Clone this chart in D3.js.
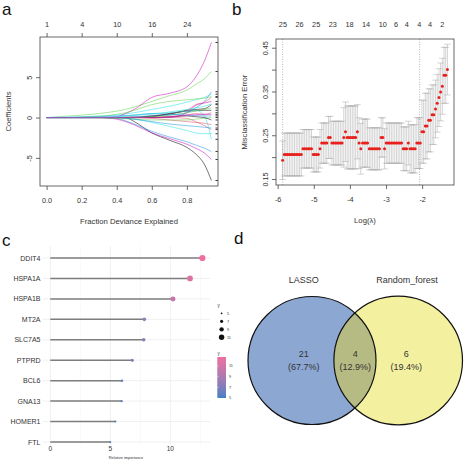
<!DOCTYPE html>
<html lang="en">
<head>
<meta charset="UTF-8">
<title>LASSO and random forest feature selection</title>
<script src="https://d3js.org/d3.v7.min.js"></script>
<style>
  body { margin: 0; background: #fff; }
  svg { display: block; font-family: "Liberation Sans", Arial, sans-serif; }
  .tick-label { font-size: 7.3px; fill: #333; }
  .axis-title { font-size: 7.7px; fill: #333; }
  .panel-tag { font-size: 17px; fill: #111; }
  .gene-label { font-size: 7px; fill: #333; }
  .venn-text { font-size: 9px; fill: #333; }
</style>
</head>
<body>
<svg id="fig" width="474" height="469"></svg>
<script>
// ---- panel a: coefficient paths (x = fraction of deviance explained)
const devFrac = [0, 0.1, 0.2, 0.3, 0.4, 0.45, 0.5, 0.6, 0.7, 0.8, 0.85, 0.9, 0.94];
const coef01 = [0, 0, 0, 0, 0, 0, -0.5, -1.9, -2.8, -3.7, -4.5, -5.8, -7.8];
const coef02 = [0, 0, 0, 0, 0, 0.05, 0.1, 0.2, 0.5, 0.9, 1.6, 1.9, 2.5];
const coef03 = [0, 0.15, 0.3, 0.5, 0.8, 1.0, 1.3, 2.0, 2.7, 3.4, 4.1, 4.8, 5.7];
const coef04 = [0, 0, 0, 0, -0.1, -0.4, -0.8, -1.7, -2.4, -3.0, -3.4, -3.8, -4.2];
const coef05 = [0, 0.05, 0.1, 0.2, 0.3, 0.45, 0.6, 1.0, 1.4, 1.9, 2.2, 2.5, 2.9];
const coef06 = [0, 0, 0, 0, 0.1, 0.5, 1.0, 2.5, 3.0, 3.8, 5.0, 7.0, 9.3];
const coef07 = [0, 0, 0, 0, 0, 0, 0, 0.2, 0.4, 0.9, 1.0, 1.1, 1.6];
const coef08 = [0, 0, 0, 0, 0, 0, 0, -0.1, -0.3, -0.5, -0.6, -0.7, -0.9];
const coef09 = [0, 0, 0.05, 0.15, 0.4, 0.6, 0.9, 1.6, 2.0, 2.2, 2.3, 2.4, 2.6];
const coef10 = [0, 0, 0, 0, 0, 0.05, 0.1, 0.2, 0.3, 0.6, 1.2, 2.0, 3.2];
const coef11 = [0, 0, 0, 0, 0, -0.1, -0.2, -0.6, -1.1, -1.6, -1.9, -2.0, -2.0];
const coef12 = [0, 0, 0, 0, -0.2, -0.5, -0.9, -1.9, -2.6, -3.3, -3.8, -4.4, -5.2];
const coef13 = [0, 0, 0, 0, 0, 0, 0, 0.1, 0.5, 0.8, 0.85, 0.9, 0.9];
const coef14 = [0, 0, 0, 0, 0, 0, 0, 0, 0, -0.1, -0.5, -1.0, -1.5];
const coef15 = [0, 0, 0, 0, -0.1, -0.15, -0.2, -0.3, -0.3, -0.3, -0.2, -0.1, 0];
const coef16 = [0, 0, 0, 0, 0, -0.1, -0.2, -0.5, -0.8, -1.0, -1.1, -1.2, -1.3];
const coef17 = [0, 0, 0, 0, 0.1, 0.2, 0.3, 0.5, 0.6, 0.8, 0.9, 0.2, -2.7];
const coef18 = [0, 0, 0, 0, 0, 0, 0, 0, 0, 0.6, 1.5, 1.8, 2.0];
const coef19 = [0, 0, 0, 0, 0, 0, 0, 0, 0.1, 0.2, 0.1, 0, -0.3];
const coef20 = [0, 0, 0, 0, 0, 0, 0, 0, 0.1, 0.3, 0.5, 0.4, 0.6];
const coef21 = [0, 0, 0, 0, 0, 0, 0, 0.1, 0.3, 0.6, 0.8, 1.0, 1.2];
const coef22 = [0, 0, 0.05, 0.1, 0.2, 0.25, 0.3, 0.5, 0.4, 0.3, 0.25, 0.2, 0.2];
const coef23 = [0, 0, 0, 0, 0, 0.2, 0.3, 0.4, 0.7, 1.0, 1.2, 1.4, 1.7];
const coef24 = [0, 0, 0, 0, 0, 0, 0, 0, 0.1, 0.3, 0.35, 0.4, 0.4];
const coefPaths = [coef01, coef02, coef03, coef04, coef05, coef06, coef07, coef08,
  coef09, coef10, coef11, coef12, coef13, coef14, coef15, coef16,
  coef17, coef18, coef19, coef20, coef21, coef22, coef23, coef24];
const devTicks = [0, 0.2, 0.4, 0.6, 0.8];
const dfTopA = ["1", "4", "10", "16", "24"];
const coefTicks = [-5, 0, 5];

// ---- panel b: cross-validated misclassification error
const logLambda = [-5.863, -5.816, -5.769, -5.722, -5.675, -5.628, -5.581, -5.534, -5.487, -5.440,
  -5.393, -5.346, -5.299, -5.252, -5.204, -5.157, -5.110, -5.063, -5.016, -4.969,
  -4.922, -4.875, -4.828, -4.781, -4.734, -4.687, -4.640, -4.593, -4.546, -4.499,
  -4.452, -4.405, -4.358, -4.311, -4.264, -4.217, -4.170, -4.123, -4.076, -4.029,
  -3.981, -3.934, -3.887, -3.840, -3.793, -3.746, -3.699, -3.652, -3.605, -3.558,
  -3.511, -3.464, -3.417, -3.370, -3.323, -3.276, -3.229, -3.182, -3.135, -3.088,
  -3.041, -2.994, -2.947, -2.900, -2.853, -2.806, -2.758, -2.711, -2.664, -2.617,
  -2.570, -2.523, -2.476, -2.429, -2.382, -2.335, -2.288, -2.241, -2.194, -2.147,
  -2.100, -2.053, -2.006, -1.959, -1.912, -1.865, -1.818, -1.771, -1.724, -1.677,
  -1.630, -1.583, -1.535, -1.488, -1.441, -1.394, -1.347, -1.300];
const cvMean = [0.193,
  0.206, 0.206, 0.206, 0.206, 0.206, 0.206, 0.206, 0.206, 0.206, 0.206, 0.206,
  0.219, 0.219, 0.219, 0.219, 0.219, 0.219,
  0.206, 0.206, 0.206, 0.206,
  0.219,
  0.232, 0.232, 0.232, 0.232,
  0.245, 0.245,
  0.232, 0.232, 0.232, 0.232, 0.232, 0.232, 0.232,
  0.245, 0.258,
  0.245, 0.245, 0.245, 0.245, 0.245, 0.245,
  0.258, 0.232, 0.219,
  0.232, 0.232, 0.232, 0.232,
  0.219, 0.219, 0.219, 0.219, 0.219, 0.219, 0.219,
  0.245, 0.245, 0.219,
  0.232, 0.232, 0.232, 0.232, 0.232, 0.232, 0.232, 0.232, 0.232, 0.232,
  0.219, 0.219, 0.219, 0.232, 0.219, 0.219, 0.219, 0.219,
  0.232, 0.232, 0.232,
  0.258, 0.258, 0.271, 0.271, 0.284, 0.284, 0.297, 0.297,
  0.310, 0.323, 0.336, 0.349, 0.362, 0.387, 0.387, 0.400];
const cvSd = [0.044,
  0.049, 0.049, 0.049, 0.049, 0.049, 0.049, 0.049, 0.049, 0.049, 0.049, 0.049,
  0.044, 0.044, 0.044, 0.044, 0.044, 0.044,
  0.040, 0.040, 0.040, 0.040,
  0.044,
  0.046, 0.046, 0.046, 0.046,
  0.048, 0.048,
  0.050, 0.050, 0.050, 0.050, 0.050, 0.050, 0.050,
  0.068, 0.068,
  0.072, 0.072, 0.072, 0.072, 0.072, 0.072,
  0.062, 0.058, 0.058,
  0.055, 0.055, 0.055, 0.055,
  0.048, 0.048, 0.048, 0.048, 0.048, 0.048, 0.048,
  0.045, 0.045, 0.046,
  0.046, 0.046, 0.046, 0.046, 0.046, 0.046, 0.046, 0.046, 0.046, 0.046,
  0.050, 0.050, 0.050, 0.050, 0.055, 0.055, 0.055, 0.055,
  0.058, 0.058, 0.058,
  0.072, 0.072, 0.075, 0.075, 0.072, 0.072, 0.068, 0.068,
  0.066, 0.066, 0.066, 0.066, 0.064, 0.064, 0.064, 0.058];
const lambdaMinLog = -5.863;
const lambda1seLog = -2.07;
const dfTopB = ["25", "26", "25", "23", "18", "14", "10", "6", "4", "4", "4", "2"];
const dfTopBAt = [-5.854, -5.392, -4.934, -4.472, -4.011, -3.552, -3.091, -2.724, -2.428, -2.077, -1.785, -1.442];
const lambdaTicks = [-6, -5, -4, -3, -2];
const errTicks = [0.15, 0.20, 0.25, 0.30, 0.35, 0.40, 0.45];
const errLabelled = [0.15, 0.25, 0.35, 0.45];

// ---- panel c: random forest importance
const genes = ["DDIT4", "HSPA1A", "HSPA1B", "MT2A", "SLC7A5", "PTPRD", "BCL6", "GNA13", "HOMER1", "FTL"];
const importance = [12.67, 11.64, 10.22, 7.83, 7.78, 6.83, 5.97, 5.94, 5.42, 5.00];
const importanceTicks = [0, 5, 10];
const sizeLegend = [5, 7, 9, 11];
const colourLegend = [5, 7, 9, 11];

// ---- panel d: overlap of selected genes
const vennSets = ["LASSO", "Random_forest"];
const vennCounts = [21, 4, 6]; // LASSO only, both, random forest only

const svg = d3.select("#fig");
const rPalette = ["#000000", "#DF536B", "#61D04F", "#2297E6", "#28E2E5", "#CD0BBC"];

function styleAxis(g) {
  g.attr("font-size", null).attr("font-family", null);
  g.select(".domain").remove();
  g.selectAll(".tick line").attr("stroke", "#444").attr("stroke-width", 0.8);
  g.selectAll(".tick text").attr("class", "tick-label");
}

// rotate y tick labels like R (las = 0)
function rotateYLabels(g, dist) {
  g.selectAll(".tick text")
    .attr("transform", "rotate(-90)")
    .attr("x", 0).attr("y", -dist).attr("dy", 0)
    .attr("text-anchor", "middle");
}

// panel tags
svg.append("text").attr("class", "panel-tag").attr("x", 2).attr("y", 15).text("a");
svg.append("text").attr("class", "panel-tag").attr("x", 232).attr("y", 15).text("b");
svg.append("text").attr("class", "panel-tag").attr("x", 2).attr("y", 246).text("c");
svg.append("text").attr("class", "panel-tag").attr("x", 234).attr("y", 244).text("d");

// ================= panel a =================
const gA = svg.append("g");
const xA = d3.scaleLinear().domain([-0.0376, 0.9776]).range([40, 218]);
const yA = d3.scaleLinear().domain([-8.48, 9.98]).range([186, 37]);

const lineA = d3.line()
  .x((d, i) => xA(devFrac[i]))
  .y(d => yA(d))
  .curve(d3.curveMonotoneX);

gA.selectAll("path.coef")
  .data(coefPaths)
  .join("path")
  .attr("class", "coef")
  .attr("d", lineA)
  .attr("fill", "none")
  .attr("stroke", (d, i) => rPalette[i % 6])
  .attr("stroke-width", 0.8)
  .attr("stroke-opacity", 0.68);

// variable marks at the right edge
gA.selectAll("line.endmark")
  .data(coefPaths)
  .join("line")
  .attr("class", "endmark")
  .attr("x1", 215.5).attr("x2", 217.8)
  .attr("y1", d => yA(d[d.length - 1]))
  .attr("y2", d => yA(d[d.length - 1]))
  .attr("stroke", "#333")
  .attr("stroke-width", 1);

gA.append("rect")
  .attr("x", 40).attr("y", 37).attr("width", 178).attr("height", 149)
  .attr("fill", "none").attr("stroke", "#444").attr("stroke-width", 0.8);

gA.append("g").attr("transform", "translate(0,186)")
  .call(d3.axisBottom(xA).tickValues(devTicks).tickFormat(d3.format(".1f")).tickSize(4).tickPadding(8))
  .call(styleAxis);
gA.append("g").attr("transform", "translate(0,37)")
  .call(d3.axisTop(xA).tickValues(devTicks).tickFormat((d, i) => dfTopA[i]).tickSize(4).tickPadding(6))
  .call(styleAxis);
gA.append("g").attr("transform", "translate(40,0)")
  .call(d3.axisLeft(yA).tickValues(coefTicks).tickFormat(d => String(d)).tickSize(4))
  .call(styleAxis)
  .call(g => rotateYLabels(g, 8.5));

gA.append("text").attr("class", "axis-title")
  .attr("x", 129).attr("y", 224).attr("text-anchor", "middle")
  .text("Fraction Deviance Explained");
gA.append("text").attr("class", "axis-title")
  .attr("transform", "translate(10.5,111.5) rotate(-90)").attr("text-anchor", "middle")
  .text("Coefficients");

// ================= panel b =================
const gB = svg.append("g");
const xB = d3.scaleLinear().domain([-6.046, -1.118]).range([276, 454]);
const yB = d3.scaleLinear().domain([0.1363, 0.4699]).range([185, 39]);
const barw = (d3.max(logLambda) - d3.min(logLambda)) * 0.02;

const bars = gB.append("g").attr("stroke", "#a9a9a9").attr("stroke-width", 0.5);
logLambda.forEach((l, i) => {
  const up = cvMean[i] + cvSd[i], lo = cvMean[i] - cvSd[i];
  bars.append("line").attr("x1", xB(l)).attr("x2", xB(l)).attr("y1", yB(up)).attr("y2", yB(lo));
  bars.append("line").attr("x1", xB(l - barw)).attr("x2", xB(l + barw)).attr("y1", yB(up)).attr("y2", yB(up));
  bars.append("line").attr("x1", xB(l - barw)).attr("x2", xB(l + barw)).attr("y1", yB(lo)).attr("y2", yB(lo));
});

gB.selectAll("circle.cv")
  .data(cvMean)
  .join("circle")
  .attr("class", "cv")
  .attr("cx", (d, i) => xB(logLambda[i]))
  .attr("cy", d => yB(d))
  .attr("r", 1.5)
  .attr("fill", "#e8201c");

gB.selectAll("line.vref")
  .data([lambdaMinLog, lambda1seLog])
  .join("line")
  .attr("class", "vref")
  .attr("x1", d => xB(d)).attr("x2", d => xB(d))
  .attr("y1", 39).attr("y2", 185)
  .attr("stroke", "#888").attr("stroke-width", 0.6)
  .attr("stroke-dasharray", "1,1.5");

gB.append("rect")
  .attr("x", 276).attr("y", 39).attr("width", 178).attr("height", 146)
  .attr("fill", "none").attr("stroke", "#444").attr("stroke-width", 0.8);

gB.append("g").attr("transform", "translate(0,185)")
  .call(d3.axisBottom(xB).tickValues(lambdaTicks).tickFormat(d => String(d)).tickSize(4).tickPadding(8))
  .call(styleAxis);
gB.append("g").attr("transform", "translate(276,0)")
  .call(d3.axisLeft(yB).tickValues(errTicks)
    .tickFormat(d => errLabelled.some(v => Math.abs(v - d) < 1e-9) ? d3.format(".2f")(d) : "")
    .tickSize(4))
  .call(styleAxis)
  .call(g => rotateYLabels(g, 8.5));

gB.selectAll("text.dfb")
  .data(dfTopB)
  .join("text")
  .attr("class", "tick-label dfb")
  .attr("x", (d, i) => xB(dfTopBAt[i]))
  .attr("y", 27)
  .attr("text-anchor", "middle")
  .text(d => d);

gB.append("text").attr("class", "axis-title")
  .attr("x", 365).attr("y", 223).attr("text-anchor", "middle")
  .text("Log(λ)");
gB.append("text").attr("class", "axis-title")
  .attr("transform", "translate(246.5,112) rotate(-90)").attr("text-anchor", "middle")
  .text("Misclassification Error");

// ================= panel c =================
const gC = svg.append("g");
const impMax = d3.max(importance);
const xC = d3.scaleLinear().domain([-0.05 * impMax, impMax * 1.05]).range([42.7, 210]);
const yC = d3.scalePoint().domain(genes).range([258, 442]);
const sizeC = d3.scaleSqrt().domain([5, impMax]).range([0.9, 3.1]);
const colourC = d3.scaleLinear().domain([5, impMax]).range(["#3f7fc4", "#ef6ea0"]).interpolate(d3.interpolateLab);

// grid
const minorTicks = [2.5, 7.5, 12.5];
gC.selectAll("line.vminor").data(minorTicks).join("line")
  .attr("x1", d => xC(d)).attr("x2", d => xC(d)).attr("y1", 246).attr("y2", 445)
  .attr("stroke", "#f0f0f0").attr("stroke-width", 0.4);
gC.selectAll("line.vmajor").data(importanceTicks).join("line")
  .attr("x1", d => xC(d)).attr("x2", d => xC(d)).attr("y1", 246).attr("y2", 445)
  .attr("stroke", "#e6e6e6").attr("stroke-width", 0.6);
gC.selectAll("line.hgrid").data(genes).join("line")
  .attr("x1", 42.7).attr("x2", 210).attr("y1", d => yC(d)).attr("y2", d => yC(d))
  .attr("stroke", "#e6e6e6").attr("stroke-width", 0.6);

// lollipops
gC.selectAll("line.stem").data(importance).join("line")
  .attr("class", "stem")
  .attr("x1", xC(0)).attr("x2", d => xC(d))
  .attr("y1", (d, i) => yC(genes[i])).attr("y2", (d, i) => yC(genes[i]))
  .attr("stroke", "#7d7d7d").attr("stroke-width", 1.5);
gC.selectAll("circle.pop").data(importance).join("circle")
  .attr("class", "pop")
  .attr("cx", d => xC(d)).attr("cy", (d, i) => yC(genes[i]))
  .attr("r", d => sizeC(d)).attr("fill", d => colourC(d));

gC.selectAll("text.gene").data(genes).join("text")
  .attr("class", "gene-label")
  .attr("x", 40.5).attr("y", d => yC(d) + 2.5)
  .attr("text-anchor", "end").text(d => d);
gC.selectAll("text.impt").data(importanceTicks).join("text")
  .attr("class", "gene-label")
  .attr("x", d => xC(d)).attr("y", 451.2)
  .attr("text-anchor", "middle").style("font-size", "6.5px").text(d => d);
gC.append("text").attr("x", 126).attr("y", 458.8).attr("text-anchor", "middle")
  .style("font-size", "3.9px").style("fill", "#333").text("Relative importance");

// size legend
gC.append("text").attr("x", 217.5).attr("y", 307).style("font-size", "4.5px").style("fill", "#333").text("y");
gC.selectAll("circle.sz").data(sizeLegend).join("circle")
  .attr("cx", 221.6).attr("cy", (d, i) => 313.3 + i * 8)
  .attr("r", d => sizeC(d)).attr("fill", "#111");
gC.selectAll("text.sz").data(sizeLegend).join("text")
  .attr("x", 227).attr("y", (d, i) => 314.6 + i * 8)
  .style("font-size", "3.8px").style("fill", "#333").text(d => d);

// colour bar legend
const defs = svg.append("defs");
const grad = defs.append("linearGradient").attr("id", "impGrad")
  .attr("x1", 0).attr("y1", 1).attr("x2", 0).attr("y2", 0);
d3.range(0, 1.0001, 0.1).forEach(t => {
  grad.append("stop").attr("offset", t).attr("stop-color", colourC(5 + t * (impMax - 5)));
});
const yBar = d3.scaleLinear().domain([5, impMax]).range([398, 357]);
gC.append("text").attr("x", 217.5).attr("y", 354.5).style("font-size", "4.5px").style("fill", "#333").text("y");
gC.append("rect").attr("x", 217.3).attr("y", 357).attr("width", 8.7).attr("height", 41)
  .attr("fill", "url(#impGrad)");
gC.selectAll("line.cbt").data(colourLegend).join("line")
  .attr("x1", 217.3).attr("x2", 218.8).attr("y1", d => yBar(d)).attr("y2", d => yBar(d))
  .attr("stroke", "#fff").attr("stroke-width", 0.4);
gC.selectAll("text.cb").data(colourLegend).join("text")
  .attr("x", 229).attr("y", d => yBar(d) + 1.3)
  .style("font-size", "3.8px").style("fill", "#333").text(d => d);

// ================= panel d =================
const gD = svg.append("g");
const vennTotal = d3.sum(vennCounts);
const pct = d3.format(".1%");
const circL = { cx: 312, cy: 360.5, r: 64 };
const circR = { cx: 398.2, cy: 360.5, r: 64.3 };

defs.append("clipPath").attr("id", "clipR")
  .append("circle").attr("cx", circR.cx).attr("cy", circR.cy).attr("r", circR.r);

gD.append("circle").attr("cx", circL.cx).attr("cy", circL.cy).attr("r", circL.r).attr("fill", "#8da7d3");
gD.append("circle").attr("cx", circR.cx).attr("cy", circR.cy).attr("r", circR.r).attr("fill", "#f3f1a0");
gD.append("circle").attr("cx", circL.cx).attr("cy", circL.cy).attr("r", circL.r)
  .attr("fill", "#b6bb84").attr("clip-path", "url(#clipR)");
[circL, circR].forEach(c => {
  gD.append("circle").attr("cx", c.cx).attr("cy", c.cy).attr("r", c.r)
    .attr("fill", "none").attr("stroke", "#111").attr("stroke-width", 1.2);
});

const setLabelX = [303.7, 407];
gD.selectAll("text.set").data(vennSets).join("text")
  .attr("class", "venn-text")
  .attr("x", (d, i) => setLabelX[i]).attr("y", 282.8)
  .attr("text-anchor", "middle").text(d => d);

const regionX = [303.7, 355.3, 406.3];
gD.selectAll("text.cnt").data(vennCounts).join("text")
  .attr("class", "venn-text")
  .attr("x", (d, i) => regionX[i]).attr("y", 357.2)
  .attr("text-anchor", "middle").text(d => d);
gD.selectAll("text.pct").data(vennCounts).join("text")
  .attr("class", "venn-text")
  .attr("x", (d, i) => regionX[i]).attr("y", 369.6)
  .attr("text-anchor", "middle").text(d => "(" + pct(d / vennTotal) + ")");
</script>
</body>
</html>
